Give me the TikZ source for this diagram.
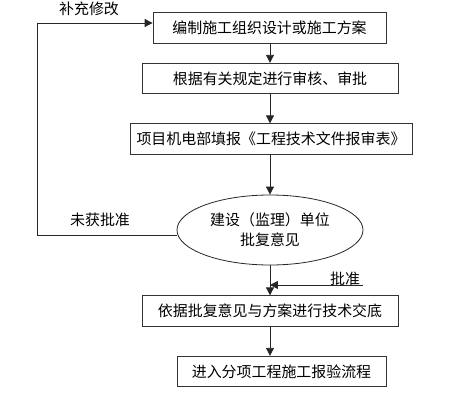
\documentclass[tikz,border=0pt]{standalone}
\usepackage{fontspec}
\setmainfont{Noto Sans CJK SC}
\usetikzlibrary{arrows.meta,shapes.geometric}
\begin{document}
\begin{tikzpicture}[x=0.03528cm,y=-0.03528cm,
  font=\fontsize{15}{20}\selectfont,
  box/.style={draw=black!80,line width=0.8pt,inner sep=0pt,minimum height=30.5bp},
  arr/.style={draw=black!85,line width=0.8pt,-{Triangle[length=8pt,width=8pt]}}]
\useasboundingbox (0,0) rectangle (474,404);
\node[box,minimum width=233bp](box1) at (269.5,28){编制施工组织设计或施工方案};
\node[box,minimum width=256bp](box2) at (270,78.5){根据有关规定进行审核、审批};
\node[box,minimum width=282bp](box3) at (271,139){项目机电部填报《工程技术文件报审表》};
\node[draw=black!85,line width=0.8pt,ellipse,minimum width=186bp,minimum height=70bp,inner sep=0pt,align=center](ell) at (270,230){建设（监理）单位\\批复意见};
\node[box,minimum width=256bp](box4) at (270,311){依据批复意见与方案进行技术交底};
\node[box,minimum width=209bp](box5) at (281.5,371.5){进入分项工程施工报验流程};
\node(fix) at (89,9){补充修改};
\node(rej) at (100,220){未获批准};
\node(ok) at (345,279){批准};
\coordinate(fb) at (37,23);
\coordinate(okend) at (363,285);
\draw[arr](box1.south -| ell) -- (box2.north -| ell);
\draw[arr](box2.south -| ell) -- (box3.north -| ell);
\draw[arr](box3.south -| ell) -- (ell.north);
\draw[arr](ell.south) -- (box4.north -| ell);
\draw[arr](box4.south -| ell) -- (box5.north -| ell);
\draw[arr]([yshift=-5bp]ell.west) -| (fb) -- (fb -| box1.west);
\draw[arr](okend) -- (okend -| ell);
\end{tikzpicture}
\end{document}
